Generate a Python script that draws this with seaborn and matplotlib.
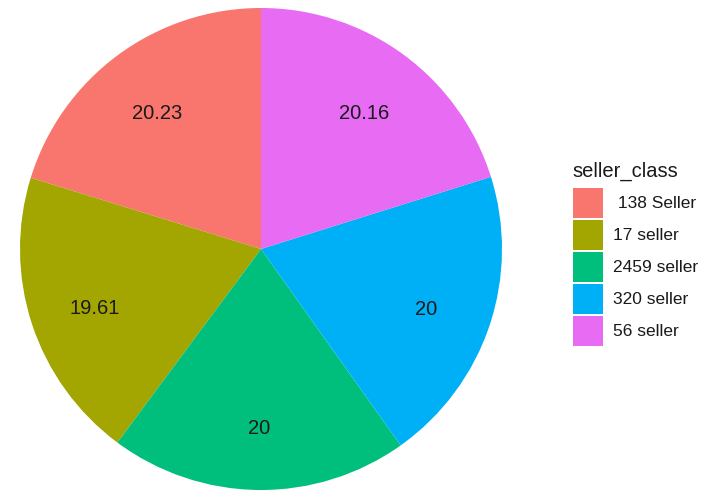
import numpy as np
import matplotlib.pyplot as plt
import matplotlib.transforms as mtransforms
import seaborn as sns
from matplotlib.patches import Rectangle

seller_class = [" 138 Seller", "17 seller", "2459 seller", "320 seller", "56 seller"]
share = [20.23, 19.61, 20, 20, 20.16]
colors = ["#F8766D", "#A3A500", "#00BF7D", "#00B0F6", "#E76BF3"]

sns.set_theme(style="white")
plt.rcParams["font.family"] = ["Liberation Sans", "DejaVu Sans"]
palette = sns.color_palette(colors)

W, H = 708, 502
fig = plt.figure(figsize=(W / 100, H / 100), dpi=100)
# pie: centre (261, 250) px, radius 241 px
ax = fig.add_axes([20 / W, (H - 491) / H, 482 / W, 482 / H])
wedges, texts = ax.pie(share, colors=palette, startangle=90, counterclock=True,
                       radius=1, wedgeprops=dict(linewidth=0))
# ggplot centres text slightly lower
shift = ax.transData + mtransforms.ScaledTranslation(0, -4 / 100, fig.dpi_scale_trans)
for w, v in zip(wedges, share):
    ang = np.deg2rad((w.theta1 + w.theta2) / 2)
    ax.text(0.725 * np.cos(ang), 0.725 * np.sin(ang), f"{v:g}",
            ha="center", va="center", fontsize=14.5, color="#1a1a1a",
            transform=shift)
ax.set_xlim(-1, 1)
ax.set_ylim(-1, 1)
ax.set_aspect("equal")
ax.axis("off")

# legend drawn in pixel coords
fig.text(572 / W, 1 - 177 / H, "seller_class", fontsize=14.5, color="#1a1a1a",
         ha="left", va="baseline")
for i, (lab, c) in enumerate(zip(seller_class, palette)):
    top = 188.5 + 32 * i
    fig.add_artist(Rectangle((572.5 / W, 1 - (top + 30) / H), 30 / W, 30 / H,
                             transform=fig.transFigure, facecolor=c,
                             edgecolor="none"))
    fig.text(613 / W, 1 - (top + 15) / H, lab, fontsize=12.5, color="#1a1a1a",
             ha="left", va="center")

plt.savefig("out.png", dpi=100)
